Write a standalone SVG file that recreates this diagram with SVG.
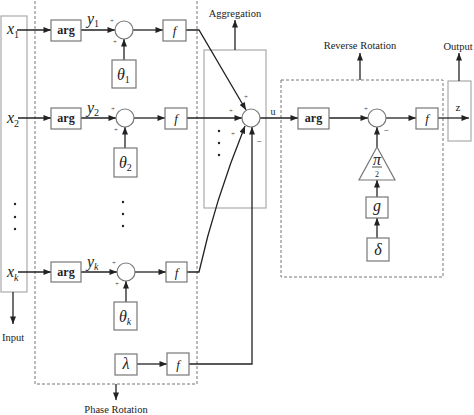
<svg xmlns="http://www.w3.org/2000/svg" width="474" height="415" viewBox="0 0 474 415">
<defs>
<style>
.box{fill:#fff;stroke:#777;stroke-width:1.2}
.gbox{fill:none;stroke:#aaa;stroke-width:1.2}
.dash{fill:none;stroke:#777;stroke-width:1;stroke-dasharray:3,2}
.ln{fill:none;stroke:#222;stroke-width:1.3}
.arr{fill:none;stroke:#222;stroke-width:1.3;marker-end:url(#ah)}
text{font-family:'Liberation Serif','Times New Roman','DejaVu Serif',serif;fill:#222}
.lab{font-size:10.5px;text-anchor:middle}
.arg{font-size:12px;font-weight:bold;text-anchor:middle}
.f{font-size:13px;font-style:italic;text-anchor:middle}
.var{font-size:16px;font-style:italic}
.sub{font-size:10px;font-style:normal}
.subi{font-size:10px;font-style:italic}
.pm{font-size:7px;fill:#444;text-anchor:middle}
.dot{fill:#222}
</style>
<marker id="ah" viewBox="0 0 10 8" refX="10" refY="4" markerWidth="8" markerHeight="6" orient="auto" markerUnits="userSpaceOnUse"><path d="M0,0 L10,4 L0,8 z" fill="#222"/></marker>
</defs>
<rect width="474" height="415" fill="#fff"/>

<g id="groups">
<rect id="input-bar" class="gbox" x="1" y="16" width="26" height="276"/>
<rect id="phase-rotation" class="dash" x="35" y="-2" width="162" height="386"/>
<rect id="aggregation" class="gbox" x="204" y="50" width="62" height="158"/>
<rect id="reverse-rotation" class="dash" x="281" y="80" width="162" height="197"/>
<rect id="output-box" class="gbox" x="448" y="81" width="23" height="60"/>
</g>

<g id="connectors">
<line class="arr" x1="17" y1="30" x2="51" y2="30"/>
<line class="arr" x1="81" y1="30" x2="115" y2="30"/>
<line class="arr" x1="124" y1="60" x2="124" y2="39"/>
<line class="arr" x1="133" y1="30" x2="163" y2="30"/>
<polyline class="arr" points="186,30 199,30 246,110"/>
<line class="arr" x1="18" y1="118" x2="51" y2="118"/>
<line class="arr" x1="81" y1="118" x2="116" y2="118"/>
<line class="arr" x1="125" y1="148" x2="125" y2="127"/>
<line class="arr" x1="134" y1="118" x2="165" y2="118"/>
<line class="arr" x1="187" y1="118" x2="242" y2="118"/>
<line class="arr" x1="18" y1="272" x2="51" y2="272"/>
<line class="arr" x1="81" y1="272" x2="117" y2="272"/>
<line class="arr" x1="126" y1="302" x2="126" y2="281"/>
<line class="arr" x1="135" y1="272" x2="166" y2="272"/>
<path class="arr" d="M187,272 L199,272 Q215,200 245,126"/>
<line class="arr" x1="137" y1="364" x2="167" y2="364"/>
<polyline class="arr" points="189,364 252,364 252,127"/>
<line class="arr" x1="260" y1="118" x2="298" y2="118"/>
<line class="arr" x1="329" y1="118" x2="368" y2="118"/>
<line class="arr" x1="377" y1="147" x2="377" y2="127"/>
<line class="arr" x1="377" y1="197" x2="377" y2="180"/>
<line class="arr" x1="377" y1="238" x2="377" y2="218"/>
<line class="arr" x1="386" y1="118" x2="416" y2="118"/>
<line class="arr" x1="438" y1="118" x2="469" y2="118"/>
<line class="arr" x1="13" y1="292" x2="13" y2="324"/>
<line class="arr" x1="116" y1="384" x2="116" y2="400"/>
<line class="arr" x1="235" y1="50" x2="235" y2="20"/>
<line class="arr" x1="360" y1="80" x2="360" y2="53"/>
<line class="arr" x1="459" y1="81" x2="459" y2="53"/>
</g>

<g id="labels">
<text class="lab" x="13" y="341">Input</text>
<text class="lab" x="116" y="413">Phase Rotation</text>
<text class="lab" x="235" y="17">Aggregation</text>
<text class="lab" x="360" y="49">Reverse Rotation</text>
<text class="lab" x="458" y="50">Output</text>
<text class="var" x="7" y="34">x<tspan class="sub" dy="4">1</tspan></text>
<text class="var" x="7" y="123">x<tspan class="sub" dy="4">2</tspan></text>
<text class="var" x="7" y="277">x<tspan class="subi" dy="4">k</tspan></text>
<text class="var" x="87" y="24">y<tspan class="sub" dy="3">1</tspan></text>
<text class="var" x="87" y="113">y<tspan class="sub" dy="3">2</tspan></text>
<text class="var" x="87" y="267">y<tspan class="subi" dy="3">k</tspan></text>
<text x="273" y="115" font-size="10" text-anchor="middle">u</text>
<circle class="dot" cx="15" cy="204" r="1.2"/><circle class="dot" cx="15" cy="217" r="1.2"/><circle class="dot" cx="15" cy="229" r="1.2"/>
<circle class="dot" cx="123" cy="202" r="1.2"/><circle class="dot" cx="123" cy="214" r="1.2"/><circle class="dot" cx="123" cy="226" r="1.2"/>
<circle class="dot" cx="219" cy="131" r="1.2"/><circle class="dot" cx="219" cy="143" r="1.2"/><circle class="dot" cx="219" cy="155" r="1.2"/>
</g>

<g id="row1">
<rect class="box" x="51" y="20" width="30" height="21"/><text class="arg" x="66" y="34">arg</text>
<circle class="box" cx="124" cy="30" r="9"/>
<text class="pm" x="112" y="23">+</text><text class="pm" x="115" y="44">+</text>
<rect class="box" x="112" y="60" width="24" height="28"/><text class="var" x="117" y="80" font-size="17">θ<tspan class="sub" dy="3">1</tspan></text>
<rect class="box" x="163" y="20" width="23" height="21"/><text class="f" x="174.5" y="35">f</text>
</g>

<g id="row2">
<rect class="box" x="51" y="108" width="30" height="21"/><text class="arg" x="66" y="122">arg</text>
<circle class="box" cx="125" cy="118" r="9"/>
<text class="pm" x="113" y="111">+</text><text class="pm" x="116" y="132">+</text>
<rect class="box" x="114" y="148" width="23" height="29"/><text class="var" x="119" y="168" font-size="17">θ<tspan class="sub" dy="3">2</tspan></text>
<rect class="box" x="165" y="108" width="22" height="21"/><text class="f" x="176" y="123">f</text>
</g>

<g id="rowk">
<rect class="box" x="51" y="262" width="30" height="20"/><text class="arg" x="66" y="276">arg</text>
<circle class="box" cx="126" cy="272" r="9"/>
<text class="pm" x="114" y="265">+</text><text class="pm" x="117" y="286">+</text>
<rect class="box" x="114" y="302" width="23" height="28"/><text class="var" x="119" y="322" font-size="17">θ<tspan class="subi" dy="3">k</tspan></text>
<rect class="box" x="166" y="262" width="21" height="20"/><text class="f" x="176.5" y="277">f</text>
</g>

<g id="lambda">
<rect class="box" x="115" y="354" width="22" height="21"/><text class="var" x="126" y="369" text-anchor="middle">λ</text>
<rect class="box" x="167" y="353" width="22" height="22"/><text class="f" x="178" y="369">f</text>
</g>

<g id="sum">
<circle class="box" cx="251" cy="118" r="9"/>
<text class="pm" x="246" y="99">+</text><text class="pm" x="231" y="113">+</text><text class="pm" x="233" y="136">+</text>
<text x="259" y="144" font-size="9" text-anchor="middle">−</text>
</g>

<g id="reverse">
<rect class="box" x="298" y="108" width="31" height="21"/><text class="arg" x="313.5" y="122">arg</text>
<circle class="box" cx="377" cy="118" r="9"/>
<text class="pm" x="366" y="111">+</text><text x="386" y="133" font-size="9" text-anchor="middle">−</text>
<polygon class="box" points="377,147 395,180 359,180"/>
<text class="var" x="377" y="165" font-size="13" text-anchor="middle">π</text>
<line x1="372" y1="167" x2="382" y2="167" stroke="#222" stroke-width="0.8"/>
<text x="377" y="177" font-size="8" text-anchor="middle">2</text>
<rect class="box" x="366" y="197" width="22" height="21"/><text class="var" x="377" y="211" font-size="14" text-anchor="middle">g</text>
<rect class="box" x="367" y="238" width="22" height="23"/><text class="var" x="378" y="255" font-size="16" text-anchor="middle">δ</text>
<rect class="box" x="416" y="108" width="22" height="21"/><text class="f" x="427" y="123">f</text>
</g>

<g id="output">
<text x="458" y="111" font-size="11" text-anchor="middle">z</text>
</g>
</svg>
